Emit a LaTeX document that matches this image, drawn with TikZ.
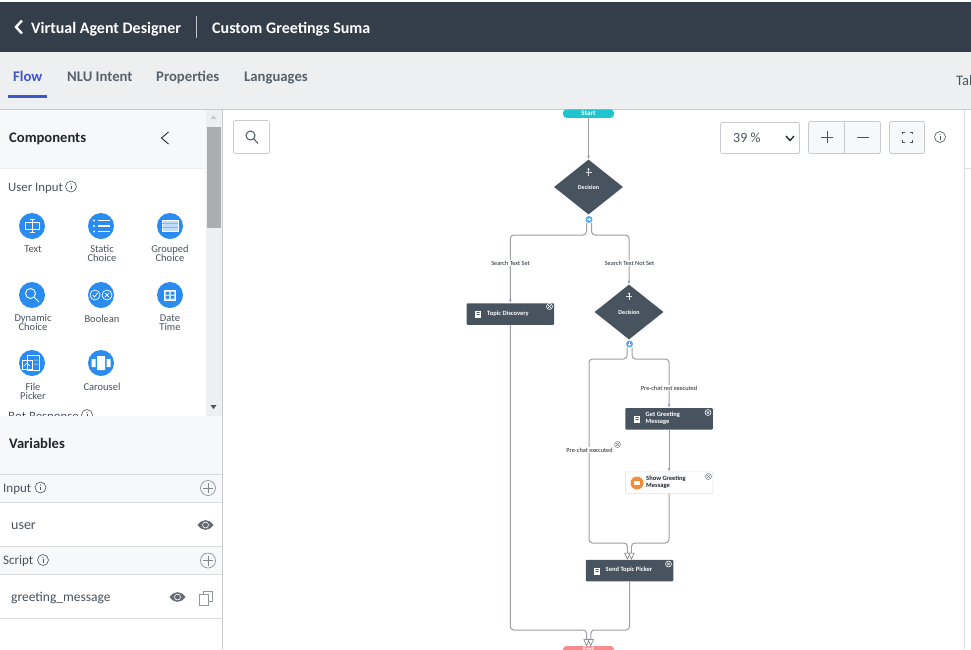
\documentclass[tikz,border=0pt]{standalone}
\usepackage{fontspec}
\setmainfont{Carlito}
\usetikzlibrary{shapes.geometric,calc,arrows.meta}
\definecolor{hdr}{HTML}{343D4A}
\definecolor{tabbg}{HTML}{EDEFF1}
\definecolor{rule}{HTML}{C9CBCE}
\definecolor{soft}{HTML}{F7F8F9}
\definecolor{ink}{HTML}{4A525B}
\definecolor{dark}{HTML}{1F262D}
\definecolor{tabink}{HTML}{57626C}
\definecolor{flowblue}{HTML}{3D57C8}
\definecolor{iconblue}{HTML}{2B8CF0}
\definecolor{slatebox}{HTML}{47535F}
\definecolor{wire}{HTML}{9C9FA3}
\definecolor{plusblue}{HTML}{5EA8F2}
\definecolor{startc}{HTML}{1EC5CE}
\definecolor{endc}{HTML}{F98A8E}
\definecolor{orangec}{HTML}{F28C3C}
\newcommand{\fs}[1]{\fontsize{#1}{#1}\selectfont}
\tikzset{
  x=1pt,y=-1pt,
  txt/.style={anchor=base west,inner sep=0pt,text=ink},
  hdrtxt/.style={anchor=base west,inner sep=0pt,text=white,font=\fs{16}\bfseries},
  tabtxt/.style={anchor=base west,inner sep=0pt,text=tabink,font=\fs{14.7}\bfseries},
  comp/.style={circle,fill=iconblue,minimum size=26pt,inner sep=0pt},
  complabel/.style={anchor=north,inner sep=0pt,align=center,text=ink,font=\fontsize{10.5}{9}\selectfont},
  wh/.style={draw=white,line width=0.9pt},
  dec/.style={diamond,fill=slatebox,minimum width=69pt,minimum height=55pt,aspect=1.25,inner sep=0pt,text=white,font=\fs{6}\bfseries},
  stepbox/.style={fill=slatebox,rounded corners=1pt,minimum width=87.5pt,minimum height=21.5pt,inner sep=0pt},
  boxtxt/.style={anchor=west,inner sep=0pt,align=left,font=\fontsize{6.5}{7}\selectfont\bfseries},
  wirel/.style={draw=wire,line width=1pt,rounded corners=3.5pt},
  into/.style={-{Latex[length=3.5pt,width=3pt]}},
  edge/.style={fill=white,inner sep=0.5pt,text=dark,font=\fs{6.3}},
  hollow/.style={draw=dark!70,fill=white,line width=0.5pt},
  btn/.style={draw=rule,rounded corners=1.5pt,line width=0.7pt},
}
\newcommand{\infoicon}[2]{\draw[ink,line width=0.6pt] (#1,#2) circle[radius=5.5];
  \fill[ink] (#1,#2-2.6) circle[radius=0.6]; \draw[ink,line width=0.7pt] (#1,#2-1) -- (#1,#2+2.7);}
\newcommand{\eyeicon}[2]{\fill[ink!85] (#1-8,#2) .. controls (#1-3,#2-6.5) and (#1+3,#2-6.5) .. (#1+8,#2) .. controls (#1+3,#2+6.5) and (#1-3,#2+6.5) .. (#1-8,#2) -- cycle;
  \draw[white,line width=0.6pt] (#1,#2) circle[radius=3];}
\newcommand{\plusicon}[2]{\draw[ink!70,line width=0.6pt] (#1,#2) circle[radius=7.5];
  \draw[ink!70,line width=0.7pt] (#1-5,#2) -- (#1+5,#2) (#1,#2-5) -- (#1,#2+5);}
\newcommand{\xicon}[3]{\draw[#3,line width=0.6pt] (#1,#2) circle[radius=3];
  \draw[#3,line width=0.5pt] (#1-1.3,#2-1.3) -- (#1+1.3,#2+1.3) (#1-1.3,#2+1.3) -- (#1+1.3,#2-1.3);}
\newcommand{\docicon}[2]{\fill[white] (#1-3.5,#2-3.5) rectangle (#1+2.5,#2+3.5);
  \fill[slatebox] (#1-1.5,#2-2) rectangle (#1+1.5,#2-1.2) (#1-1.5,#2) rectangle (#1+1.5,#2+0.8);}
\newcommand{\moveicon}[2]{\draw[white!85!slatebox,line width=0.4pt] (#1-3,#2) -- (#1+3,#2) (#1,#2-3.5) -- (#1,#2+3.5);
  \fill[white] (#1,#2-4) -- (#1-1.2,#2-2.3) -- (#1+1.2,#2-2.3) -- cycle;}
\begin{document}
\begin{tikzpicture}
\useasboundingbox (0,0) rectangle (971,649);
\clip (0,0) rectangle (971,649);
% backgrounds
\fill[white] (0,0) rectangle (971,649);
\fill[hdr] (0,2) rectangle (971,52);
\fill[tabbg] (0,52) rectangle (971,109);
\draw[rule,line width=1pt] (0,109.5) -- (971,109.5);
\draw[white!70!hdr,line width=0.6pt] (196.5,16) -- (196.5,38);
% header
\draw[white,line width=2.4pt] (22,20.5) -- (16,27) -- (22,33.5);
\node[hdrtxt] (hdra) at (31,33) {Virtual Agent Designer};
\node[hdrtxt] (hdrb) at (212,33) {Custom Greetings Suma};
% tabs
\node[tabtxt,text=flowblue] (tflow) at (13,81.5) {Flow};
\node[tabtxt] (tnlu) at (67,81.5) {NLU Intent};
\node[tabtxt] (tprop) at (156,81.5) {Properties};
\node[tabtxt] (tlang) at (244,81.5) {Languages};
\node[anchor=base west,inner sep=0pt,text=ink,font=\fs{14.5}] (ttal) at (956,85) {Tal};
\fill[flowblue] (8,94.5) rectangle (47,97.5);
% left panel
\fill[soft] (0,110) rectangle (205.5,168);
\draw[tabbg,line width=0.7pt] (0,168.5) -- (205.5,168.5);
\fill[tabbg] (206,110) rectangle (221.5,416);
\fill[rule!85!black] (207,127) rectangle (220.5,228);
\fill[rule] (213.5,115) -- (210.5,119) -- (216.5,119) -- cycle;
\fill[ink] (213.5,409) -- (210.5,405) -- (216.5,405) -- cycle;
\node[anchor=base west,inner sep=0pt,text=dark,font=\fs{14.6}\bfseries] (hcomp) at (9,142.5) {Components};
\draw[dark,line width=0.9pt] (168.5,132) -- (161.5,138) -- (168.5,144);
\node[txt,font=\fs{12.8}] (huser) at (8,191.5) {User Input};
\infoicon{71}{186.5}
% component icons
\node[comp] (ca) at (32,226) {};
\draw[wh] (25,222.5) rectangle (39,229.5) (32,219.5) -- (32,232.5) (29.5,219.5) -- (34.5,219.5) (29.5,232.5) -- (34.5,232.5);
\node[complabel] (la) at (33,245.5) {Text};
\node[comp] (cb) at (101,226) {};
\draw[wh,line width=1.1pt] (98,220.5) -- (110,220.5) (98,226) -- (110,226) (98,231.5) -- (110,231.5);
\fill[white] (94,220.5) circle[radius=1.2] (94,226) circle[radius=1.2] (94,231.5) circle[radius=1.2];
\node[complabel] (lb) at (102,245.5) {Static\\Choice};
\node[comp] (cc) at (170,226) {};
\draw[wh,fill=white!70!iconblue,line width=0.7pt] (162,220.5) rectangle (178,231.5);
\draw[iconblue!60!white,line width=0.5pt] (162,223.5) -- (178,223.5) (162,227) -- (178,227);
\node[complabel] (lc) at (170,245.5) {Grouped\\Choice};
\node[comp] (cd) at (32,295) {};
\draw[wh] (30.5,293.5) circle[radius=5];
\draw[wh] (34,297) -- (39,302);
\node[complabel] (ld) at (33,314.5) {Dynamic\\Choice};
\node[comp] (ce) at (101,295) {};
\draw[wh,line width=0.7pt] (95,295) circle[radius=5] (107,295) circle[radius=5];
\draw[wh,line width=0.7pt] (92.7,295) -- (94.5,297) -- (97.5,293) (105,293) -- (109,297) (105,297) -- (109,293);
\node[complabel] (le) at (102,314.5) {Boolean};
\node[comp] (cf) at (170,295) {};
\draw[wh,fill=white!75!iconblue,line width=0.6pt] (164.5,290) rectangle (175.5,300);
\fill[iconblue] (166,292) rectangle (169,294.5) (171,292) rectangle (174,294.5) (166,296) rectangle (169,298.5) (171,296) rectangle (174,298.5);
\node[complabel] (lf) at (170,314.5) {Date\\Time};
\node[comp] (cg) at (32,363) {};
\draw[wh,line width=0.7pt] (27,355) rectangle (39,370) (22.5,360) rectangle (32,369);
\draw[wh,line width=0.5pt] (24,366) -- (27,363) -- (30,366) (34,360) -- (38,360) (34,364) -- (38,364);
\node[complabel] (lg) at (33,382.5) {File\\Picker};
\node[comp] (ch) at (101,363) {};
\fill[white] (97,356) rectangle (105,370) (91.5,359) rectangle (95.5,367) (106.5,359) rectangle (110.5,367);
\node[complabel] (lh) at (102,382.5) {Carousel};
\node[txt,font=\fs{12.8}] (hbot) at (8,420) {Bot Response};
\infoicon{87}{415}
% variables
\fill[soft] (0,416) rectangle (222,474);
\node[anchor=base west,inner sep=0pt,text=dark,font=\fs{14.6}\bfseries] (hvar) at (9,448.5) {Variables};
\fill[soft] (0,475) rectangle (222,502);
\fill[soft] (0,547) rectangle (222,574);
\draw[rule!70!white,line width=0.7pt] (0,474.5) -- (222,474.5) (0,502.5) -- (222,502.5) (0,546.5) -- (222,546.5) (0,574.5) -- (222,574.5) (0,618.5) -- (222,618.5);
\node[txt,font=\fs{13}] (hinp) at (3,492.5) {Input};
\infoicon{40.5}{487.5}
\plusicon{208}{488}
\node[txt,font=\fs{14}] (vuser) at (11,529.5) {user};
\eyeicon{205.5}{525}
\node[txt,font=\fs{13}] (hscr) at (3,564.5) {Script};
\infoicon{43}{560}
\plusicon{208}{560.5}
\node[txt,font=\fs{13.5}] (vgm) at (11,601.5) {greeting\_message};
\eyeicon{177.5}{597}
\draw[ink!60,line width=0.6pt] (199.5,594) rectangle (208,605) (203,594) -- (203,591) -- (212,591) -- (212,601.5) -- (208,601.5);
\draw[rule,line width=1pt] (222.5,110) -- (222.5,649);
\draw[rule!70!white,line width=0.7pt] (964.5,110) -- (964.5,649);
\draw[rule!60!white,line width=0.6pt] (964.5,168.5) -- (971,168.5);
% toolbar
\draw[btn,fill=white] (233.5,120.5) rectangle (269.5,153.5);
\draw[ink,line width=1pt] (250.5,135.5) circle[radius=4.5] (254,139) -- (258,143.5);
\draw[btn,fill=white] (720.5,122.5) rectangle (799.5,153.5);
\node[txt,font=\fs{14}] (zoomv) at (733,142.5) {39 \%};
\draw[dark,line width=1.3pt] (786,136) -- (790,140.5) -- (794,136);
\draw[btn,fill=soft] (808.5,121.5) rectangle (880.5,153.5);
\draw[rule,line width=0.7pt] (844.5,121.5) -- (844.5,153.5);
\draw[ink,line width=1pt] (821,137) -- (833,137) (827,131) -- (827,143);
\draw[ink,line width=1pt] (857,137) -- (869,137);
\draw[btn,fill=soft] (889.5,121.5) rectangle (924.5,153.5);
\draw[ink,line width=1pt] (902,134) -- (902,132) -- (904.5,132) (910,132) -- (912.5,132) -- (912.5,134) (912.5,140) -- (912.5,142) -- (910,142) (904.5,142) -- (902,142) -- (902,140);
\infoicon{940}{137}
% flow nodes
\node[fill=startc,minimum width=51pt,minimum height=8.5pt,inner sep=0pt,rounded corners=3.5pt,text=white,font=\fs{7}\bfseries] (start) at (588.5,113.5) {Start};
\node[dec] (d1) at (588.5,187) {\raisebox{-1.5pt}{Decision}};
\moveicon{588.5}{172}
\node[circle,fill=plusblue,minimum size=7pt,inner sep=0pt] (p1) at (589,219.5) {};
\node[dec] (d2) at (629,312) {\raisebox{-1.5pt}{Decision}};
\moveicon{629}{296.5}
\node[circle,fill=plusblue,minimum size=7pt,inner sep=0pt] (p2) at (629.5,344) {};
\node[stepbox] (topic) at (510.3,314) {};
\node[stepbox] (get) at (669,418.8) {};
\node[stepbox,fill=white,draw=rule!60!white,line width=0.5pt] (show) at (669,482.5) {};
\node[stepbox] (send) at (629.5,570.5) {};
\node[fill=endc,minimum width=51pt,minimum height=9pt,inner sep=0pt,rounded corners=3.5pt] (endn) at (588.5,650.5) {};
\node[anchor=north,inner sep=0pt,text=white,font=\fs{7}\bfseries] (endt) at (588.5,646.5) {End};
% node contents
\docicon{478}{314}
\node[boxtxt,text=white] (ttopic) at (487,313.5) {Topic Discovery};
\xicon{549.5}{306.5}{white}
\docicon{637}{419}
\node[boxtxt,text=white] (tget) at (645.5,418.5) {Get Greeting\\Message};
\xicon{708}{412.5}{white}
\fill[orangec] (637,483) circle[radius=6.5];
\fill[white] (634,481) rectangle (640,485);
\node[boxtxt,text=dark] (tshow) at (646,482.5) {Show Greeting\\Message};
\xicon{708.5}{476.5}{ink!70}
\docicon{597}{571}
\node[boxtxt,text=white] (tsend) at (605.5,570) {Send Topic Picker};
\xicon{668.5}{564}{white}
% connector junction points
\coordinate (a1) at ($(p1.south)+(-2.5,0)$);
\coordinate (a2) at ($(p1.south)+(2.5,0)$);
\coordinate (a3) at ($(p2.south)+(-2.5,0)$);
\coordinate (a4) at ($(p2.south)+(2.5,0)$);
\coordinate (j1) at (0,235);
\coordinate (j2) at (0,359);
\coordinate (j3) at (589,543);
\coordinate (j4) at (669,543);
\coordinate (j5) at (510.3,630);
\coordinate (j6) at (629.5,630);
\coordinate (in1) at (627.4,553);
\coordinate (in2) at (631.4,553);
\coordinate (in3) at (586.6,639.5);
\coordinate (in4) at (590.8,639.5);
% connectors
\draw[wirel,into] (start.south) -- (d1.north);
\draw[wirel,into] (a1) -- (a1 |- j1) -- (topic.north |- j1) -- (topic.north);
\draw[wirel,into] (a2) -- (a2 |- j1) -- (d2.north |- j1) -- (d2.north);
\draw[wirel,into] (a4) -- (a4 |- j2) -- (get.north |- j2) -- (get.north);
\draw[wirel,into] (get.south) -- (show.north);
\draw[wirel] (a3) -- (a3 |- j2) -- (j3 |- j2) -- (j3) -- (in1 |- j3) -- (in1);
\draw[wirel] (show.south) -- (j4) -- (in2 |- j4) -- (in2);
\draw[wirel] (topic.south) -- (j5) -- (in3 |- j5) -- (in3);
\draw[wirel] (send.south) -- (j6) -- (in4 |- j6) -- (in4);
\draw[hollow] (in1) -- ++(-2.8,0) -- ++(2.8,6) -- ++(2.8,-6) -- cycle;
\draw[hollow] (in2) -- ++(-2.8,0) -- ++(2.8,6) -- ++(2.8,-6) -- cycle;
\draw[hollow] (in3) -- ++(-2.8,0) -- ++(2.8,6) -- ++(2.8,-6) -- cycle;
\draw[hollow] (in4) -- ++(-2.8,0) -- ++(2.8,6) -- ++(2.8,-6) -- cycle;
\fill[white] (p1.center) ++(-1.8,-0.4) rectangle ++(3.6,0.8);
\fill[white] (p1.center) ++(-0.4,-1.8) rectangle ++(0.8,3.6);
\fill[white] (p2.center) ++(-1.8,-0.4) rectangle ++(3.6,0.8);
\fill[white] (p2.center) ++(-0.4,-1.8) rectangle ++(0.8,3.6);
% connector labels
\node[edge] (e1) at (510.5,263) {Search Text Set};
\node[edge] (e2) at (629.5,263) {Search Text Not Set};
\node[edge] (e3) at (669,388) {Pre-chat not executed};
\node[edge] (e4) at (589.5,450) {Pre-chat executed};
\xicon{617.5}{444.5}{ink!70}
\end{tikzpicture}
\end{document}
